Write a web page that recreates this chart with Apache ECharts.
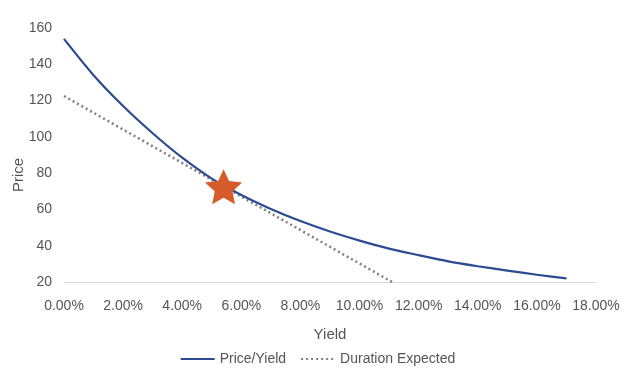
<!DOCTYPE html>
<html>
<head>
<meta charset="utf-8">
<script src="https://cdn.jsdelivr.net/npm/echarts@6/dist/echarts.min.js"></script>
<style>
  html, body { margin: 0; padding: 0; background: #fff; }
  #chart { width: 635px; height: 378px; }
</style>
</head>
<body>
<div id="chart"></div>
<script>
  // yield in %, price
  const yields = [0, 1, 2, 3, 4, 5, 6, 7, 8, 9, 10, 11, 12, 13, 14, 15, 16, 17];
  const prices = [154, 134, 117, 102, 88.5, 77, 68, 60.3, 53.6, 47.8, 42.8, 38.4, 34.8, 31.4, 28.7, 26.3, 24, 22];

  // tangent (duration) line end points
  const durationYields = [0, 11.1];
  const durationPrices = [122.5, 20];

  const marker = [5.4, 72.5];

  const TEXT = '#555555';
  const FONT = 'Liberation Sans';

  const chart = echarts.init(document.getElementById('chart'));

  chart.setOption({
    animation: false,
    textStyle: { fontFamily: FONT },
    grid: { left: 64, right: 39, top: 28, bottom: 96 },
    legend: {
      bottom: 7,
      left: 'center',
      data: ['Price/Yield', 'Duration Expected'],
      itemWidth: 34,
      itemHeight: 12,
      itemGap: 14,
      itemStyle: { opacity: 0 },
      textStyle: { color: TEXT, fontSize: 14, fontFamily: FONT }
    },
    xAxis: {
      type: 'value',
      min: 0,
      max: 18,
      interval: 2,
      name: 'Yield',
      nameLocation: 'middle',
      nameGap: 45,
      nameTextStyle: { color: TEXT, fontSize: 15 },
      axisLine: { lineStyle: { color: '#d9d9d9' } },
      axisTick: { show: false },
      splitLine: { show: false },
      axisLabel: {
        color: TEXT,
        fontSize: 14,
        margin: 17,
        formatter: function (v) { return v.toFixed(2) + '%'; }
      }
    },
    yAxis: {
      type: 'value',
      min: 20,
      max: 160,
      interval: 20,
      axisLine: { show: false },
      axisTick: { show: false },
      splitLine: { show: false },
      axisLabel: { color: TEXT, fontSize: 14, margin: 12 }
    },
    graphic: [{
      type: 'text',
      x: 19,
      y: 175,
      rotation: Math.PI / 2,
      style: {
        text: 'Price',
        fill: TEXT,
        font: '15px ' + FONT,
        align: 'center',
        verticalAlign: 'middle'
      }
    }],
    series: [
      {
        name: 'Price/Yield',
        type: 'line',
        data: yields.map(function (x, i) { return [x, prices[i]]; }),
        smooth: 0.3,
        showSymbol: false,
        symbol: 'none',
        lineStyle: { color: '#2c4b91', width: 2.2 },
        itemStyle: { color: '#2c4b91' },
        z: 3
      },
      {
        name: 'Duration Expected',
        type: 'line',
        data: durationYields.map(function (x, i) { return [x, durationPrices[i]]; }),
        showSymbol: false,
        symbol: 'none',
        lineStyle: { color: '#7f7f7f', width: 2.5, type: [2, 3] },
        itemStyle: { color: '#7f7f7f' },
        z: 2
      },
      {
        name: 'Marker',
        type: 'scatter',
        data: [marker],
        symbol: 'path://M50,0 L64.1,30.6 L97.6,34.5 L72.8,57.4 L79.4,90.5 L50,74 L20.6,90.5 L27.2,57.4 L2.4,34.5 L35.9,30.6 Z',
        symbolSize: [37, 35],
        itemStyle: { color: '#d65a2a', opacity: 1 },
        z: 5
      }
    ]
  });
</script>
</body>
</html>
